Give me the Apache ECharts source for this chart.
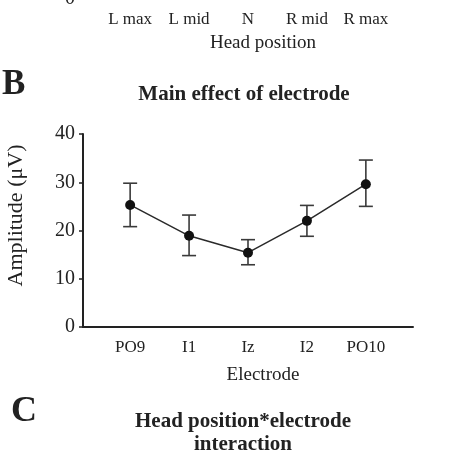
<!DOCTYPE html>
<html>
<head>
<meta charset="utf-8">
<script src="https://cdn.jsdelivr.net/npm/echarts@6/dist/echarts.min.js"></script>
<style>html,body{margin:0;padding:0;background:#fff}#c{width:474px;height:474px}</style>
</head>
<body>
<div id="c"></div>
<script>
// Panel A (partially visible at top)
const headPositions = ['L max', 'L mid', 'N', 'R mid', 'R max'];
// Panel B data
const electrodes = ['PO9', 'I1', 'Iz', 'I2', 'PO10'];
const amplitudeMean = [25.3, 18.9, 15.4, 22.0, 29.6];
const errLower = [20.8, 14.8, 12.9, 18.8, 25.0];
const errUpper = [29.8, 23.2, 18.1, 25.2, 34.6];
const yTicks = [0, 10, 20, 30, 40];

const serif = 'Liberation Serif';
const ink = '#222';

const chart = echarts.init(document.getElementById('c'), null, {renderer: 'canvas'});

const meanPts = amplitudeMean.map((v, i) => [i, v]);
const errPts = errLower.map((lo, i) => [i, lo, errUpper[i]]);

const option = {
  backgroundColor: '#fff',
  animation: false,
  title: [
    {text: 'B', left: -3, top: 62, textStyle: {fontFamily: serif, fontWeight: 'bold', fontSize: 35, color: ink}},
    {text: 'Main effect of electrode', left: 239, top: 79, textAlign: 'center',
     textStyle: {fontFamily: serif, fontWeight: 'bold', fontSize: 21, color: ink}},
    {text: 'C', left: 6, top: 389, textStyle: {fontFamily: serif, fontWeight: 'bold', fontSize: 36, color: ink}},
    {text: 'Head position*electrode\ninteraction', left: 238, top: 405, textAlign: 'center',
     textStyle: {fontFamily: serif, fontWeight: 'bold', fontSize: 21, lineHeight: 23, color: ink}}
  ],
  grid: [
    {left: 83, right: 61, top: -100, height: 99, outerBoundsMode: 'none'},
    {left: 83, right: 61, top: 134, bottom: 147, outerBoundsMode: 'none'}
  ],
  xAxis: [
    {
      gridIndex: 0, type: 'value', min: -0.8, max: 4.8,
      splitLine: {show: false}, axisTick: {show: false},
      axisLine: {show: true, onZero: false, lineStyle: {color: ink, width: 2}},
      axisLabel: {customValues: [0, 1, 2, 3, 4], formatter: v => headPositions[Math.round(v)],
        fontFamily: serif, fontSize: 17, color: ink, margin: 12},
      name: 'Head position', nameLocation: 'middle', nameGap: 35,
      nameTextStyle: {fontFamily: serif, fontSize: 19, color: ink, padding: [0, 0, 0, 30]}
    },
    {
      gridIndex: 1, type: 'value', min: -0.8, max: 4.8,
      splitLine: {show: false}, axisTick: {show: false},
      axisLine: {show: true, onZero: false, lineStyle: {color: ink, width: 2}},
      axisLabel: {customValues: [0, 1, 2, 3, 4], formatter: v => electrodes[Math.round(v)],
        fontFamily: serif, fontSize: 17, color: ink, margin: 12},
      name: 'Electrode', nameLocation: 'middle', nameGap: 39,
      nameTextStyle: {fontFamily: serif, fontSize: 19, color: ink, padding: [0, 0, 0, 30]}
    }
  ],
  yAxis: [
    {
      gridIndex: 0, type: 'value', min: 0, max: 40, interval: 10,
      splitLine: {show: false},
      axisLine: {show: true, onZero: false, lineStyle: {color: ink, width: 2}},
      axisTick: {show: true, length: 4, lineStyle: {color: ink, width: 1.5}},
      axisLabel: {fontFamily: serif, fontSize: 20, color: ink, margin: 8}
    },
    {
      gridIndex: 1, type: 'value', min: 0, max: 40, interval: 10,
      splitLine: {show: false},
      axisLine: {show: true, onZero: false, lineStyle: {color: ink, width: 2}},
      axisTick: {show: true, length: 4, lineStyle: {color: ink, width: 1.5}},
      axisLabel: {customValues: yTicks, fontFamily: serif, fontSize: 20, color: ink, margin: 8},
      name: 'Amplitude (μV)', nameLocation: 'middle', nameGap: 56, nameRotate: 90,
      nameTextStyle: {fontFamily: serif, fontSize: 22, color: ink, padding: [0, 0, 0, 30]}
    }
  ],
  series: [
    {
      type: 'custom', xAxisIndex: 1, yAxisIndex: 1, z: 2,
      data: errPts,
      renderItem: function (params, api) {
        const x = api.value(0);
        const lo = api.coord([x, api.value(1)]);
        const hi = api.coord([x, api.value(2)]);
        const hw = 7;
        const style = {stroke: '#3a3a3a', lineWidth: 1.6, fill: null};
        return {
          type: 'group',
          children: [
            {type: 'line', shape: {x1: lo[0], y1: lo[1], x2: hi[0], y2: hi[1]}, style},
            {type: 'line', shape: {x1: lo[0] - hw, y1: lo[1], x2: lo[0] + hw, y2: lo[1]}, style},
            {type: 'line', shape: {x1: hi[0] - hw, y1: hi[1], x2: hi[0] + hw, y2: hi[1]}, style}
          ]
        };
      }
    },
    {
      type: 'line', xAxisIndex: 1, yAxisIndex: 1, z: 3,
      data: meanPts,
      symbol: 'circle', symbolSize: 10,
      lineStyle: {color: '#2a2a2a', width: 1.5},
      itemStyle: {color: '#111', borderWidth: 0}
    }
  ]
};
chart.setOption(option);
</script>
</body>
</html>
